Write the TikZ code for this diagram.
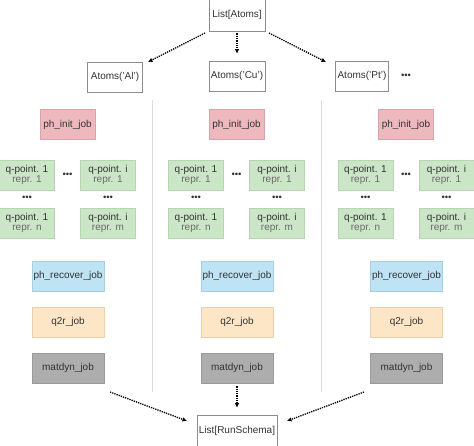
\documentclass[tikz,border=0pt]{standalone}
\usepackage{fontspec}
\setmainfont{Liberation Sans}
\usetikzlibrary{arrows.meta}
\definecolor{txt}{HTML}{333333}
\definecolor{txtl}{HTML}{6A6A6A}
\definecolor{pinkf}{HTML}{EDB9BF}
\definecolor{pinkd}{HTML}{D9A3AA}
\definecolor{greenf}{HTML}{CBE6C7}
\definecolor{greend}{HTML}{B5D6B0}
\definecolor{bluef}{HTML}{BDE3F5}
\definecolor{blued}{HTML}{A6CFE3}
\definecolor{peachf}{HTML}{FDE6C6}
\definecolor{peachd}{HTML}{E9D0AD}
\definecolor{grayf}{HTML}{ADADAD}
\definecolor{grayd}{HTML}{9A9A9A}
\definecolor{sep}{HTML}{DCDCDC}
\begin{document}
\begin{tikzpicture}[x=1pt,y=-1pt,
  every node/.style={font=\fontsize{10}{11}\selectfont, text=txt},
  wbox/.style={draw=black!45, fill=white, line width=0.6pt, minimum height=30pt, inner sep=2pt},
  job/.style={minimum width=55pt, minimum height=30pt, line width=0.5pt, inner sep=1pt},
  initbox/.style={job, fill=pinkf, draw=pinkd},
  qbox/.style={job, fill=greenf, draw=greend, align=center, font=\fontsize{10}{10.5}\selectfont},
  recbox/.style={job, minimum width=72pt, fill=bluef, draw=blued},
  q2rbox/.style={job, minimum width=72pt, fill=peachf, draw=peachd},
  matbox/.style={job, minimum width=72pt, fill=grayf, draw=grayd},
  dotsn/.style={font=\fontsize{9.5}{10}\selectfont, text=black!80, inner sep=0pt},
  arr/.style={densely dotted, line width=1.3pt, -{Latex[length=4.5pt,width=4.5pt]}},
  sepline/.style={draw=sep, line width=0.8pt}
]
\useasboundingbox (0,0) rectangle (474,445);

% top
\node[wbox, minimum width=56pt, minimum height=32pt] (la) at (237,15) {List[Atoms]};
\node[wbox, minimum width=55pt] (al) at (115,77) {Atoms('Al')};
\node[wbox, minimum width=55pt] (cu) at (237,76) {Atoms('Cu')};
\node[wbox, minimum width=52pt] (pt) at (362,76) {Atoms('Pt')};
\node[dotsn] (ptd) at (406,76) {•••};

\coordinate (ls) at (205,33);
\coordinate (lt) at (148,62);
\coordinate (rs) at (269,33);
\coordinate (rt) at (326,62);
\draw[arr] (ls) -- (lt);
\draw[arr] (rs) -- (rt);
\draw[arr, shorten <=2pt, shorten >=7pt] (la.south) -- (cu.north);

% separators
\coordinate (s1a) at (152,100); \coordinate (s1b) at (152,392);
\coordinate (s2a) at (321,100); \coordinate (s2b) at (321,392);
\draw[sepline] (s1a) -- (s1b);
\draw[sepline] (s2a) -- (s2b);

% columns
\foreach \c/\x in {1/67.5,2/236.5,3/406} {
  \node[initbox] (init\c) at (\x,124.5) {ph\_init\_job};
  \node[qbox] (qa\c) at (\x-40.5,175) {q-point. 1\\{\color{txtl}repr. 1}};
  \node[qbox] (qb\c) at (\x+40.5,175) {q-point. i\\{\color{txtl}repr. 1}};
  \node[qbox] (qc\c) at (\x-40.5,223) {q-point. 1\\{\color{txtl}repr. n}};
  \node[qbox] (qd\c) at (\x+40.5,223) {q-point. i\\{\color{txtl}repr. m}};
  \node[dotsn] (dh\c) at (\x,175) {•••};
  \node[dotsn] (dl\c) at (\x-40.5,198) {•••};
  \node[dotsn] (dr\c) at (\x+40.5,198) {•••};
  \node[recbox] (rec\c) at (\x+0.5,276) {ph\_recover\_job};
  \node[q2rbox] (q2r\c) at (\x+0.5,322) {q2r\_job};
  \node[matbox] (mat\c) at (\x+0.5,368) {matdyn\_job};
}

% bottom
\node[wbox, minimum width=78pt, minimum height=32pt] (lr) at (237,431) {List[RunSchema]};
\coordinate (bls) at (110,392);
\coordinate (blt) at (187,421);
\coordinate (brs) at (364,392);
\coordinate (brt) at (287,421);
\draw[arr] (bls) -- (blt);
\draw[arr] (brs) -- (brt);
\draw[arr, shorten <=3pt, shorten >=7pt] (mat2.south) -- (lr.north);
\end{tikzpicture}
\end{document}
